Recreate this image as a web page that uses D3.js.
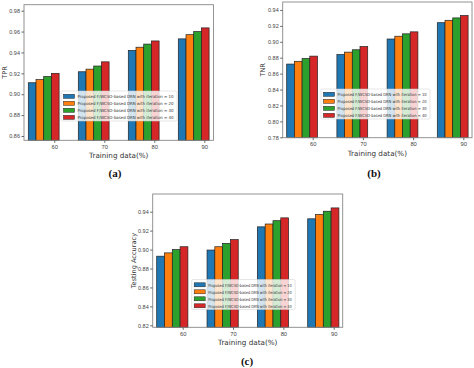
<!DOCTYPE html>
<html>
<head>
<meta charset="utf-8">
<script src="https://cdn.jsdelivr.net/npm/d3@7"></script>
<style>
  body { margin: 0; background: #fff; }
  svg { display: block; font-family: "DejaVu Sans", sans-serif; }
  .tick text { fill: #444; }
  .tick line { stroke: #666; }
  .domain { stroke: none; }
</style>
</head>
<body>
<svg id="chart" width="474" height="368"></svg>
<script>
// categories and series
const categories = ["60", "70", "80", "90"];
const seriesNames = [
  "Proposed F/WCSO-based DRN with iteration = 10",
  "Proposed F/WCSO-based DRN with iteration = 20",
  "Proposed F/WCSO-based DRN with iteration = 30",
  "Proposed F/WCSO-based DRN with iteration = 40"
];
const colors = ["#1f77b4", "#ff7f0e", "#2ca02c", "#d62728"];

// (a) TPR, one array per iteration count
const tprIter10 = [0.911, 0.9215, 0.942, 0.953];
const tprIter20 = [0.914, 0.924, 0.945, 0.957];
const tprIter30 = [0.917, 0.927, 0.948, 0.960];
const tprIter40 = [0.920, 0.931, 0.951, 0.9635];

// (b) TNR
const tnrIter10 = [0.872, 0.884, 0.9035, 0.924];
const tnrIter20 = [0.8755, 0.887, 0.907, 0.927];
const tnrIter30 = [0.879, 0.890, 0.910, 0.930];
const tnrIter40 = [0.882, 0.894, 0.9125, 0.933];

// (c) Testing accuracy
const accIter10 = [0.893, 0.8995, 0.924, 0.9325];
const accIter20 = [0.8965, 0.903, 0.927, 0.937];
const accIter30 = [0.900, 0.9065, 0.9305, 0.9405];
const accIter40 = [0.903, 0.9105, 0.9335, 0.944];

// y tick labels
const tprTicks = [0.86, 0.88, 0.90, 0.92, 0.94, 0.96, 0.98];
const tnrTicks = [0.78, 0.80, 0.82, 0.84, 0.86, 0.88, 0.90, 0.92, 0.94];
const accTicks = [0.82, 0.84, 0.86, 0.88, 0.90, 0.92, 0.94];

const svg = d3.select("#chart");

function drawPanel(p) {
  let g = svg.append("g");

  let y = d3.scaleLinear().domain(p.yDomain).range([p.bottom, p.top]);
  let xs = d3.scalePoint().domain(categories).range([p.g0, p.g3]);
  let xTick = d3.scalePoint().domain(categories).range([p.g0 + p.tickOff, p.g3 + p.tickOff]);

  // bars
  p.series.forEach(function(vals, k) {
    g.selectAll(null)
      .data(vals)
      .enter()
      .append("rect")
      .attr("x", function(d, i){ return xs(categories[i]) + k * p.bw; })
      .attr("y", function(d){ return y(d); })
      .attr("width", p.bw)
      .attr("height", function(d){ return p.bottom - y(d); })
      .attr("fill", colors[k])
      .attr("stroke", "#222")
      .attr("stroke-width", 0.7);
  });

  // frame
  g.append("rect")
    .attr("x", p.left).attr("y", p.top)
    .attr("width", p.right - p.left).attr("height", p.bottom - p.top)
    .attr("fill", "none").attr("stroke", "#888").attr("stroke-width", 0.9);

  // axes
  let yAxis = g.append("g")
    .attr("transform", "translate(" + p.left + ",0)")
    .call(d3.axisLeft(y).tickValues(p.ticks).tickFormat(d3.format(".2f")).tickSize(2.5).tickPadding(1.5));
  yAxis.selectAll("text").attr("font-size", 5.5);

  let xAxis = g.append("g")
    .attr("transform", "translate(0," + p.bottom + ")")
    .call(d3.axisBottom(xTick).tickSize(2.5).tickPadding(2));
  xAxis.selectAll("text").attr("font-size", 5.8);

  // axis titles
  g.append("text")
    .attr("x", (p.left + p.right) / 2)
    .attr("y", p.bottom + 18)
    .attr("text-anchor", "middle")
    .attr("font-size", 7.2)
    .attr("fill", "#333")
    .text("Training data(%)");

  g.append("text")
    .attr("transform", "translate(" + p.ylabX + "," + ((p.top + p.bottom) / 2) + ") rotate(-90)")
    .attr("text-anchor", "middle")
    .attr("font-size", 6.6)
    .attr("fill", "#333")
    .text(p.ylabel);

  // legend
  let lg = g.append("g").attr("transform", "translate(" + p.legX + "," + p.legY + ")");
  lg.append("rect")
    .attr("width", p.legW).attr("height", 30)
    .attr("rx", 1.5)
    .attr("fill", "#fff").attr("fill-opacity", 0.8)
    .attr("stroke", "#ccc").attr("stroke-width", 0.5);
  seriesNames.forEach(function(name, k) {
    lg.append("rect")
      .attr("x", 2.5).attr("y", 3.3 + k * 7)
      .attr("width", 11).attr("height", 4)
      .attr("fill", colors[k]).attr("stroke", "#222").attr("stroke-width", 0.5);
    lg.append("text")
      .attr("x", 16.5).attr("y", 7 + k * 7)
      .attr("font-size", 4.2)
      .attr("fill", "#333")
      .attr("textLength", p.legW - 20)
      .attr("lengthAdjust", "spacingAndGlyphs")
      .text(name);
  });

  // caption
  svg.append("text")
    .attr("x", p.capX).attr("y", p.capY)
    .attr("text-anchor", "middle")
    .attr("font-family", "'Liberation Serif', 'DejaVu Serif', serif")
    .attr("font-weight", "bold")
    .attr("font-size", 11)
    .attr("fill", "#111")
    .text(p.caption);
}

drawPanel({
  series: [tprIter10, tprIter20, tprIter30, tprIter40],
  ticks: tprTicks, yDomain: [0.8559, 0.9857], ylabel: "TPR",
  left: 24, right: 213.5, top: 4.7, bottom: 140.3,
  g0: 28.3, g3: 178.3, bw: 7.7, tickOff: 26,
  ylabX: 6.5, legX: 61, legY: 91, legW: 116,
  caption: "(a)", capX: 115, capY: 177
});

drawPanel({
  series: [tnrIter10, tnrIter20, tnrIter30, tnrIter40],
  ticks: tnrTicks, yDomain: [0.7795, 0.950], ylabel: "TNR",
  left: 282.7, right: 472, top: 2, bottom: 137.7,
  g0: 286.7, g3: 437.3, bw: 7.7, tickOff: 26,
  ylabX: 264.5, legX: 321, legY: 89, legW: 109,
  caption: "(b)", capX: 374, capY: 177
});

drawPanel({
  series: [accIter10, accIter20, accIter30, accIter40],
  ticks: accTicks, yDomain: [0.8179, 0.9587], ylabel: "Testing Accuracy",
  left: 152.7, right: 342.7, top: 194, bottom: 327.3,
  g0: 156.7, g3: 307.7, bw: 7.8, tickOff: 26,
  ylabX: 135.5, legX: 191.7, legY: 279.5, legW: 103.5,
  caption: "(c)", capX: 247, capY: 365
});
</script>
</body>
</html>
